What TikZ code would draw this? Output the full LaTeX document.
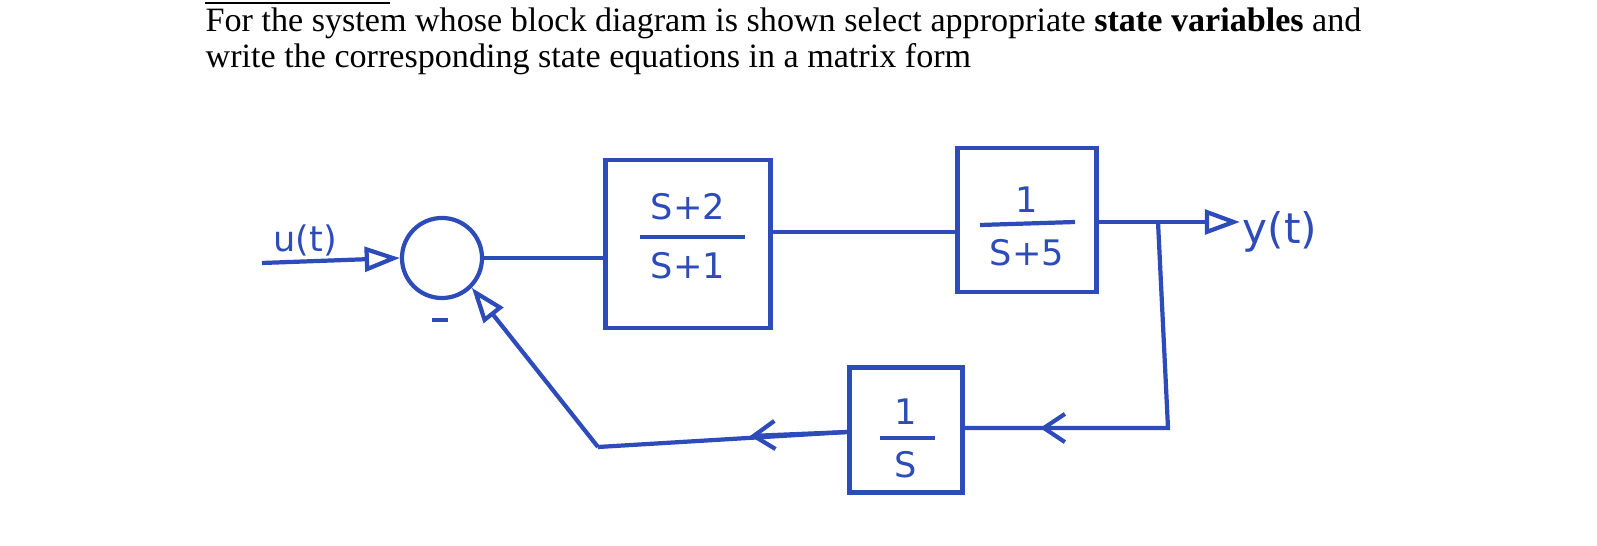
\documentclass[tikz,border=0pt]{standalone}
\usepackage{fontspec}
\setmainfont{Liberation Serif}
\newfontfamily\hand{DejaVu Sans}
\usetikzlibrary{arrows.meta}
\definecolor{pen}{RGB}{45,75,185}
\begin{document}
\begin{tikzpicture}[x=0.01cm,y=-0.01cm,
  line/.style={pen,line width=1.2pt},
  hw/.style={pen,font=\hand\fontsize{10}{10}\selectfont},
  arr/.style={line,-{Triangle[open,length=10pt,width=7pt]}},
  barb/.style={line,-{Straight Barb[length=6pt,width=8pt]}}]
\useasboundingbox (0,0) rectangle (1597,546);
\draw[line width=0.8pt] (205,3) -- (390,3);
\node[anchor=north west,align=left,inner sep=0,font=\fontsize{9.7}{10.4}\selectfont] (txt) at (205,7)
 {For the system whose block diagram is shown select appropriate \textbf{state variables} and\\write the corresponding state equations in a matrix form};
\node[draw=pen,line width=1.2pt,circle,minimum size=0.8cm] (sum) at (442,258) {};
\node[draw=pen,line width=1.2pt,minimum width=1.65cm,minimum height=1.68cm] (g1) at (688,244) {};
\node[draw=pen,line width=1.2pt,minimum width=1.39cm,minimum height=1.44cm] (g2) at (1027,220) {};
\node[draw=pen,line width=1.2pt,minimum width=1.13cm,minimum height=1.25cm] (g3) at (906,430) {};
% fractions
\draw[line] (640,237) -- (745,237);
\node[hw] (n1) at (688,207) {S+2};
\node[hw] (d1) at (688,266) {S+1};
\draw[line] (980,225) -- (1075,222);
\node[hw] (n2) at (1027,200) {1};
\node[hw] (d2) at (1027,253) {S+5};
\draw[line] (880,438) -- (935,438);
\node[hw] (n3) at (906,412) {1};
\node[hw] (d3) at (906,465) {S};
% labels
\node[hw] (u) at (305,240) {u(t)};
\node[hw,font=\hand\fontsize{12}{12}\selectfont] (y) at (1280,232) {y(t)};
\draw[line] (432,320) -- (448,320);
% connectors
\coordinate (in) at (262,263);
\draw[arr] (in) -- (sum.west);
\draw[line] (sum.east) -- (g1.west |- sum.east);
\draw[line] (g1.east |- 0,232) -- (g2.west |- 0,232);
\coordinate (br) at (1158,222);
\coordinate (out) at (1240,222);
\draw[arr] (g2.east |- br) -- (out);
\coordinate (c1) at (1168,428);
\coordinate (c2) at (598,447);
\draw[line] (br) -- (c1) -- (g3.east |- c1);
\draw[barb] (c1) -- (1040,428);
\draw[line] (g3.west |- 0,432) -- (c2);
\draw[barb] (g3.west |- 0,432) -- (750,436);
\draw[arr] (c2) -- (sum.south east);
\end{tikzpicture}
\end{document}
